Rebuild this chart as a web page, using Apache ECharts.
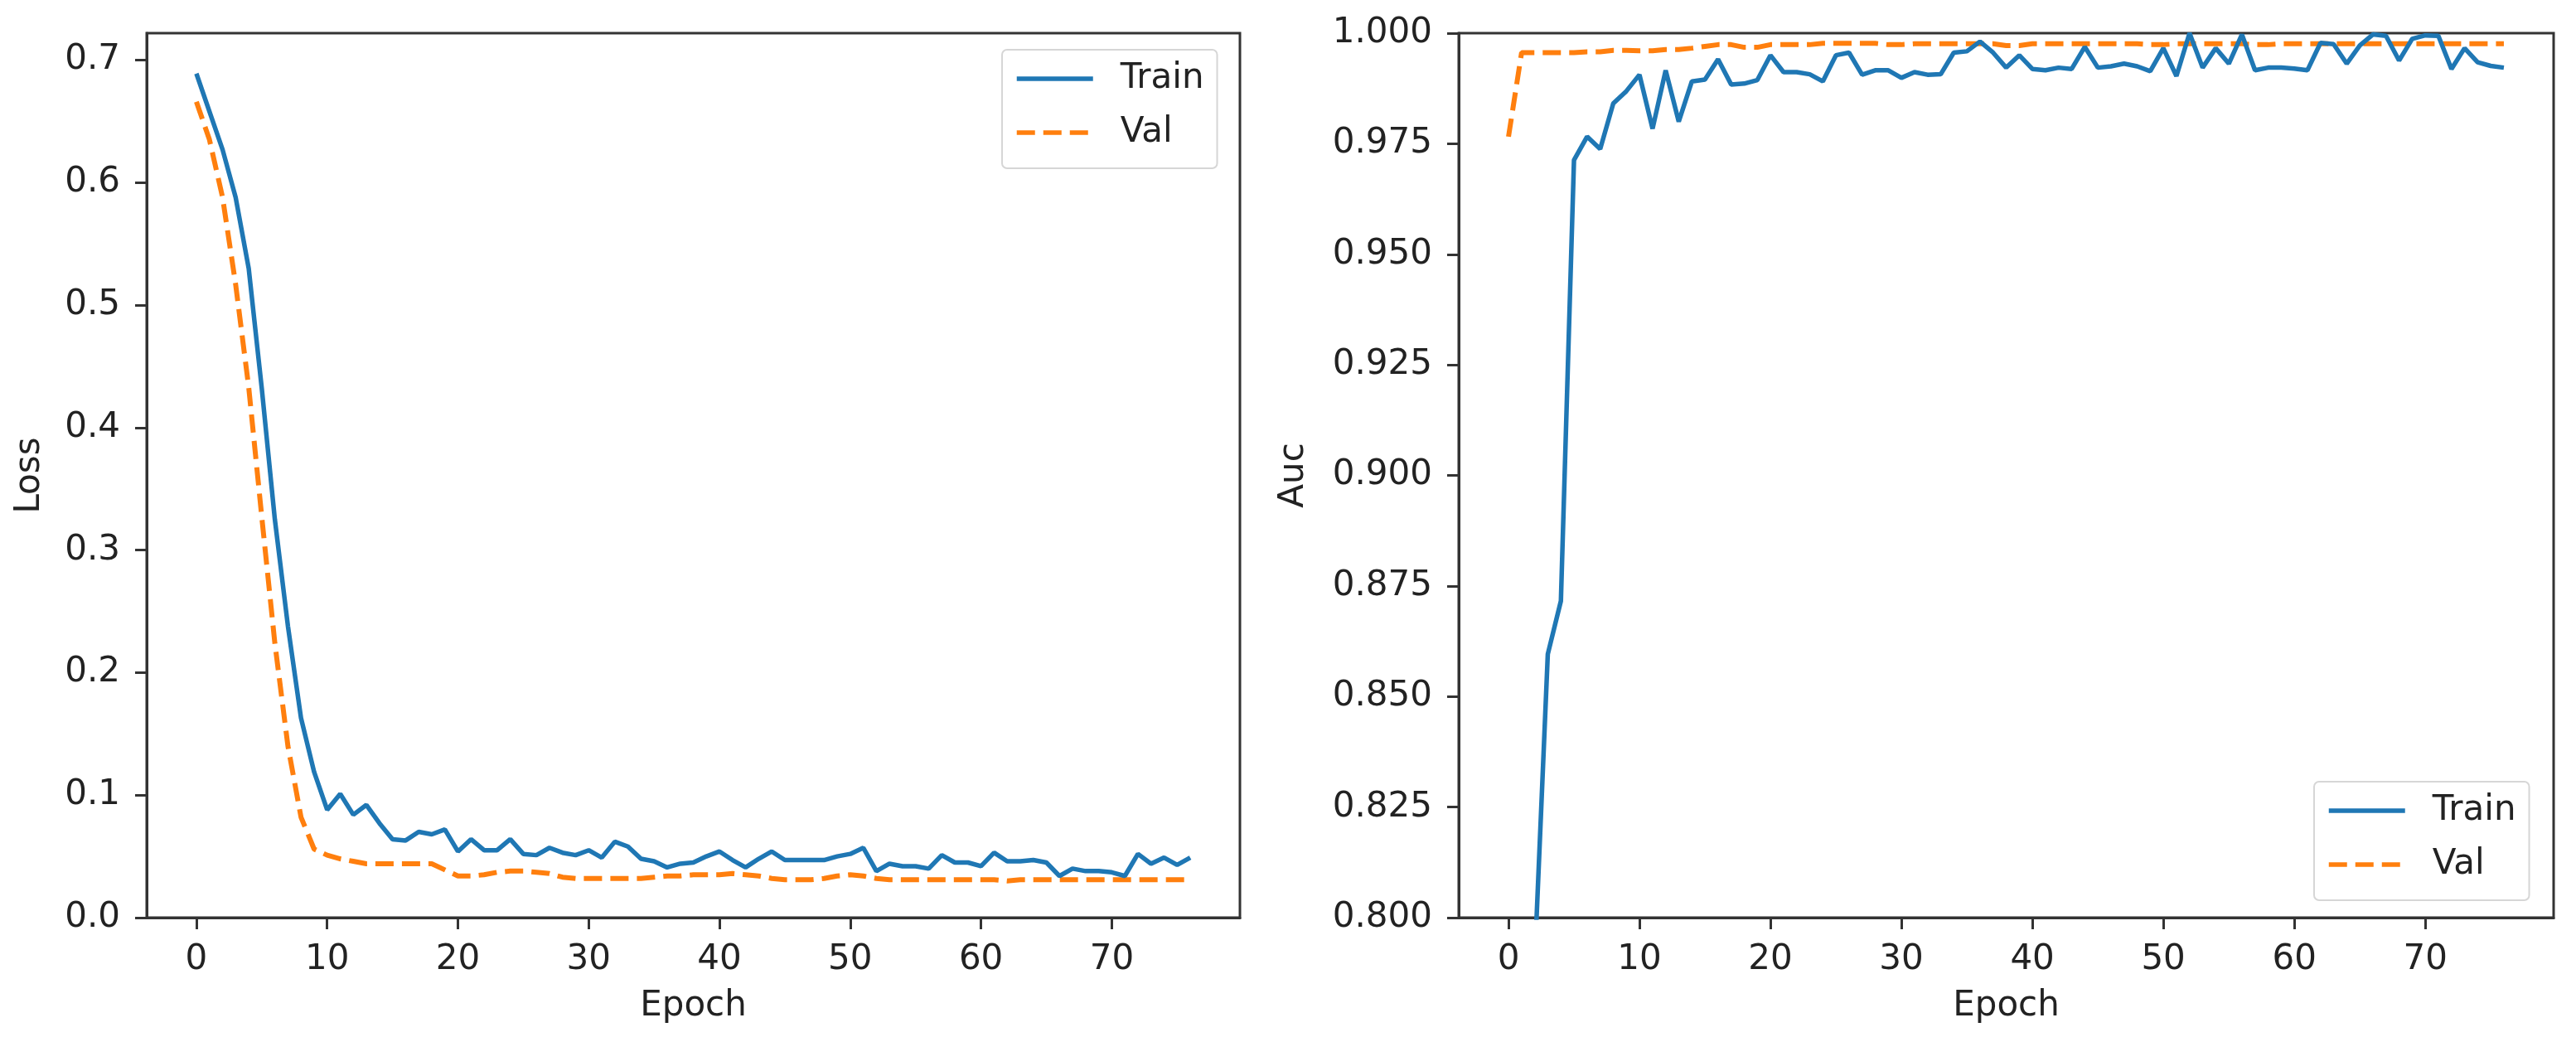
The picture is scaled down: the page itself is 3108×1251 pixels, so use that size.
<!DOCTYPE html>
<html>
<head>
<meta charset="utf-8">
<script src="https://cdn.jsdelivr.net/npm/echarts@6/dist/echarts.min.js"></script>
<style>
  html, body { margin: 0; padding: 0; background: #ffffff; }
  #chart { width: 3108px; height: 1251px; }
</style>
</head>
<body>
<div id="chart"></div>
<script>
// ---- data ----
const epochs = Array.from({ length: 77 }, (_, i) => i);

const lossTrain = [
  0.689, 0.658, 0.627, 0.588, 0.530, 0.432, 0.325, 0.238, 0.163, 0.119,
  0.088, 0.101, 0.084, 0.092, 0.077, 0.064, 0.063, 0.070, 0.068, 0.072,
  0.054, 0.064, 0.055, 0.055, 0.064, 0.052, 0.051, 0.057, 0.053, 0.051,
  0.055, 0.049, 0.062, 0.058, 0.048, 0.046, 0.041, 0.044, 0.045, 0.050,
  0.054, 0.047, 0.041, 0.048, 0.054, 0.047, 0.047, 0.047, 0.047, 0.050,
  0.052, 0.057, 0.038, 0.044, 0.042, 0.042, 0.040, 0.051, 0.045, 0.045,
  0.042, 0.053, 0.046, 0.046, 0.047, 0.045, 0.034, 0.040, 0.038, 0.038,
  0.037, 0.034, 0.052, 0.044, 0.049, 0.043, 0.049
];

const lossVal = [
  0.666, 0.635, 0.588, 0.517, 0.433, 0.327, 0.224, 0.140, 0.082, 0.056,
  0.051, 0.048, 0.046, 0.044, 0.044, 0.044, 0.044, 0.044, 0.044, 0.039,
  0.034, 0.034, 0.035, 0.037, 0.038, 0.038, 0.037, 0.036, 0.033, 0.032,
  0.032, 0.032, 0.032, 0.032, 0.032, 0.033, 0.034, 0.034, 0.035, 0.035,
  0.035, 0.036, 0.035, 0.034, 0.032, 0.031, 0.031, 0.031, 0.032, 0.034,
  0.035, 0.034, 0.032, 0.031, 0.031, 0.031, 0.031, 0.031, 0.031, 0.031,
  0.031, 0.031, 0.030, 0.031, 0.031, 0.031, 0.031, 0.031, 0.031, 0.031,
  0.031, 0.031, 0.031, 0.031, 0.031, 0.031, 0.031
];

const aucTrain = [
  null, null, 0.790, 0.8596, 0.8716, 0.9713, 0.9766, 0.9738, 0.9841, 0.9869,
  0.9906, 0.9784, 0.9916, 0.9800, 0.9891, 0.9895, 0.9941, 0.9884, 0.9886, 0.9894,
  0.9950, 0.9912, 0.9912, 0.9907, 0.9891, 0.9950, 0.9956, 0.9906, 0.9916, 0.9916,
  0.9899, 0.9912, 0.9906, 0.9907, 0.9956, 0.9959, 0.9981, 0.9956, 0.9922, 0.9950,
  0.9919, 0.9916, 0.9922, 0.9919, 0.9969, 0.9922, 0.9925, 0.9931, 0.9925, 0.9914,
  0.9966, 0.9903, 1.0000, 0.9922, 0.9966, 0.9931, 0.9997, 0.9916, 0.9922, 0.9922,
  0.9920, 0.9916, 0.9978, 0.9975, 0.9931, 0.9972, 0.9997, 0.9994, 0.9938, 0.9987,
  0.9995, 0.9994, 0.9919, 0.9966, 0.9934, 0.9926, 0.9922
];

const aucVal = [
  0.9766, 0.9956, 0.9956, 0.9956, 0.9956, 0.9956, 0.9958, 0.9958, 0.9961, 0.9961,
  0.9960, 0.9960, 0.9963, 0.9963, 0.9966, 0.9970, 0.9974, 0.9974, 0.9968, 0.9968,
  0.9974, 0.9974, 0.9974, 0.9974, 0.9977, 0.9977, 0.9977, 0.9977, 0.9977, 0.9974,
  0.9974, 0.9976, 0.9976, 0.9976, 0.9976, 0.9976, 0.9976, 0.9976, 0.9972, 0.9972,
  0.9976, 0.9976, 0.9976, 0.9976, 0.9976, 0.9976, 0.9976, 0.9976, 0.9976, 0.9974,
  0.9974, 0.9976, 0.9976, 0.9976, 0.9976, 0.9976, 0.9976, 0.9974, 0.9974, 0.9976,
  0.9976, 0.9976, 0.9976, 0.9976, 0.9976, 0.9976, 0.9976, 0.9976, 0.9976, 0.9976,
  0.9976, 0.9976, 0.9976, 0.9976, 0.9976, 0.9976, 0.9976
];

const xTicks = [0, 10, 20, 30, 40, 50, 60, 70];
const lossTicks = [0.0, 0.1, 0.2, 0.3, 0.4, 0.5, 0.6, 0.7];

// ---- styling ----
const FONT = 'DejaVu Sans';
const TXT = '#222222';
const SPINE = '#333333';
const BLUE = '#1f77b4';
const ORANGE = '#ff7f0e';

function pairs(arr) {
  return epochs.map((e, i) => [e, arr[i] == null ? '-' : arr[i]]);
}

function xAxisCfg(gridIndex) {
  return {
    type: 'value', gridIndex,
    min: -3.8, max: 79.8,
    name: 'Epoch', nameLocation: 'middle', nameGap: 86,
    nameTextStyle: { fontFamily: FONT, fontSize: 42, color: TXT },
    axisLine: { show: true, onZero: false, lineStyle: { color: SPINE, width: 3 } },
    axisTick: { show: true, length: 14, customValues: xTicks, lineStyle: { color: SPINE, width: 3 } },
    axisLabel: { customValues: xTicks, margin: 30, fontFamily: FONT, fontSize: 42, color: TXT },
    splitLine: { show: false }
  };
}

const lineTrain = (xi, data) => ({
  name: 'Train', type: 'line', xAxisIndex: xi, yAxisIndex: xi,
  data: pairs(data), symbol: 'none', showSymbol: false, clip: true,
  connectNulls: false, animation: false,
  lineStyle: { color: BLUE, width: 5.5 }, itemStyle: { color: BLUE }, z: 3
});
const lineVal = (xi, data) => ({
  name: 'Val', type: 'line', xAxisIndex: xi, yAxisIndex: xi,
  data: pairs(data), symbol: 'none', showSymbol: false, clip: true,
  animation: false,
  lineStyle: { color: ORANGE, width: 6, type: [22, 10] }, itemStyle: { color: ORANGE }, z: 2
});

function legendCfg(left, top) {
  return {
    data: ['Train', 'Val'],
    orient: 'vertical', left, top,
    backgroundColor: '#ffffff',
    borderColor: '#d6d6d6', borderWidth: 2, borderRadius: 6,
    padding: [10, 16, 18, 15],
    itemWidth: 92, itemHeight: 16, itemGap: 15,
    itemStyle: { color: 'transparent', borderColor: 'transparent', borderWidth: 0, opacity: 0 },
    lineStyle: { width: 5.5, type: 'inherit', color: 'inherit' },
    textStyle: { fontFamily: FONT, fontSize: 42, color: TXT, lineHeight: 50, padding: [0, 0, 0, 28] },
    selectedMode: false
  };
}

const chart = echarts.init(document.getElementById('chart'), null, { renderer: 'canvas', width: 3108, height: 1251 });

chart.setOption({
  animation: false,
  backgroundColor: '#ffffff',
  grid: [
    { left: 177, top: 40, width: 1319, height: 1067, show: true, borderColor: SPINE, borderWidth: 3, backgroundColor: 'transparent' },
    { left: 1760, top: 40, width: 1321, height: 1067, show: true, borderColor: SPINE, borderWidth: 3, backgroundColor: 'transparent' }
  ],
  xAxis: [xAxisCfg(0), xAxisCfg(1)],
  yAxis: [
    {
      type: 'value', gridIndex: 0, min: 0, max: 0.722,
      name: 'Loss', nameLocation: 'middle', nameGap: 120, nameRotate: 90,
      nameTextStyle: { fontFamily: FONT, fontSize: 42, color: TXT },
      axisLine: { show: true, onZero: false, lineStyle: { color: SPINE, width: 3 } },
      axisTick: { show: true, length: 14, customValues: lossTicks, lineStyle: { color: SPINE, width: 3 } },
      axisLabel: { customValues: lossTicks, margin: 32, fontFamily: FONT, fontSize: 42, color: TXT,
                   formatter: v => v.toFixed(1) },
      splitLine: { show: false }
    },
    {
      type: 'value', gridIndex: 1, min: 0.8, max: 1.0, interval: 0.025,
      name: 'Auc', nameLocation: 'middle', nameGap: 178, nameRotate: 90,
      nameTextStyle: { fontFamily: FONT, fontSize: 42, color: TXT },
      axisLine: { show: true, onZero: false, lineStyle: { color: SPINE, width: 3 } },
      axisTick: { show: true, length: 14, lineStyle: { color: SPINE, width: 3 } },
      axisLabel: { margin: 32, fontFamily: FONT, fontSize: 42, color: TXT,
                   formatter: v => v.toFixed(3) },
      splitLine: { show: false }
    }
  ],
  legend: [legendCfg(1209, 60), legendCfg(2792, 943)],
  series: [
    lineTrain(0, lossTrain), lineVal(0, lossVal),
    lineTrain(1, aucTrain), lineVal(1, aucVal)
  ]
});
</script>
</body>
</html>
